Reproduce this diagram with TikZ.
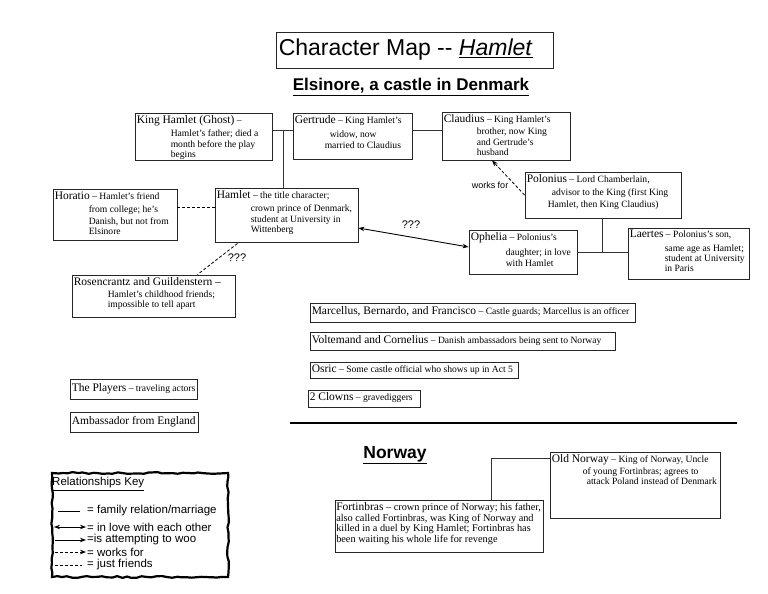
\documentclass[tikz,border=0pt]{standalone}
\usepackage{fontspec}
\setmainfont{Liberation Serif}
\setsansfont{Liberation Sans}
\usetikzlibrary{fit,arrows.meta,decorations.pathmorphing}
\newcommand\cmN{\fontsize{11.5}{13}\selectfont}
\newcommand\cmD{\fontsize{9.6}{10.4}\selectfont}
\newcommand\cmF{\fontsize{10.3}{10.8}\selectfont}
\tikzset{
  cbox/.style={draw=black!85, line width=0.9pt, inner sep=0pt, fit={#1}},
  ctext/.style={anchor=north west, inner sep=0pt, align=left, font=\cmD},
  cone/.style={anchor=west, inner sep=0pt, font=\cmD},
  rel/.style={line width=0.8pt, draw=black!80},
  dsh/.style={line width=0.8pt, dash pattern=on 3pt off 2pt},
  tipA/.style={-{Stealth[length=6pt,width=4.5pt]}},
  tipB/.style={{Stealth[length=6pt,width=4.5pt]}-{Stealth[length=6pt,width=4.5pt]}},
  lbl/.style={font=\sffamily\fontsize{11}{12}\selectfont, inner sep=0pt},
  keyt/.style={anchor=west, inner sep=0pt, font=\sffamily\fontsize{11.5}{13}\selectfont}
}
\newcommand\cmbox[6]{%
  \node[cbox={(#2,#3) (#4,#5)}] (#1) {};
  \node[ctext] (#1t) at ([xshift=2pt,yshift=-2.5pt]#1.north west) {#6};}
\newcommand\cmone[6]{%
  \node[cbox={(#2,#3) (#4,#5)}] (#1) {};
  \node[cone] (#1t) at ([xshift=2pt,yshift=0.5pt]#1.west) {#6};}
\begin{document}
\begin{tikzpicture}[x=1pt,y=-1pt]
\useasboundingbox[fill=white] (0,0) rectangle (768,594);

% title
\node[cbox={(276,32) (553,68)}] (title) {};
\node[anchor=west, inner sep=0pt, font=\sffamily\fontsize{23}{26}\selectfont] (titlet) at ([xshift=3pt,yshift=0pt]title.west) {Character Map -{}- \underline{\textit{Hamlet}}};
\node[inner sep=0pt, font=\sffamily\bfseries\fontsize{17}{20}\selectfont] (elsi) at (411,87) {\underline{Elsinore, a castle in Denmark}};

% character boxes
\cmbox{kh}{135}{113}{272}{160}{{\cmN King Hamlet (Ghost)} –\\[3pt]
\hspace*{34pt}Hamlet’s father; died a\\
\hspace*{34pt}month before the play\\
\hspace*{34pt}begins}
\cmbox{ger}{293}{113}{412}{159}{{\cmN Gertrude} – King Hamlet’s\\[4pt]
\hspace*{35pt}widow, now\\
\hspace*{30pt}married to Claudius}
\cmbox{cla}{442}{112}{570}{160}{{\cmN Claudius} – King Hamlet’s\\[2pt]
\hspace*{33pt}brother, now King\\
\hspace*{33pt}and Gertrude’s\\
\hspace*{33pt}husband}
\node[cbox={(525,172) (681,218)}] (pol) {};
\node[ctext] (polt) at ([xshift=2pt,yshift=-3pt]pol.north west) {{\cmN Polonius} – Lord Chamberlain,\\[2.5pt]
\hspace*{25pt}advisor to the King (first King\\[1.5pt]
\hspace*{21pt}Hamlet, then King Claudius)};
\node[cbox={(53,189) (177,240)}] (hor) {};
\node[ctext] (hort) at ([xshift=2pt,yshift=-3.5pt]hor.north west) {{\cmN Horatio} – Hamlet’s friend\\[2.5pt]
\hspace*{34pt}from college; he’s\\[1pt]
\hspace*{34pt}Danish, but not from\\
\hspace*{34pt}Elsinore};
\node[cbox={(215,188) (358,242)}] (ham) {};
\node[ctext] (hamt) at ([xshift=2pt,yshift=-3pt]ham.north west) {{\cmN Hamlet} – the title character;\\[2.5pt]
\hspace*{34pt}crown prince of Denmark,\\
\hspace*{34pt}student at University in\\
\hspace*{34pt}Wittenberg};
\cmbox{rg}{72}{275}{235}{317}{{\cmN Rosencrantz and Guildenstern –}\\[1.5pt]
\hspace*{34pt}Hamlet’s childhood friends;\\
\hspace*{34pt}impossible to tell apart}
\cmbox{oph}{469}{230}{577}{274}{{\cmN Ophelia} – Polonius’s\\[5pt]
\hspace*{35pt}daughter; in love\\
\hspace*{35pt}with Hamlet}
\cmbox{lae}{628}{228}{749}{279}{{\cmN Laertes} – Polonius’s son,\\[3pt]
\hspace*{35pt}same age as Hamlet;\\
\hspace*{35pt}student at University\\
\hspace*{35pt}in Paris}

\cmone{mar}{310}{303}{635}{322}{{\cmN Marcellus, Bernardo, and Francisco} – Castle guards; Marcellus is an officer}
\cmone{vol}{310}{332}{615}{350}{{\cmN Voltemand and Cornelius} – Danish ambassadors being sent to Norway}
\cmone{osr}{310}{362}{518}{378}{{\cmN Osric} – Some castle official who shows up in Act 5}
\cmone{clo}{308}{390}{420}{407}{{\cmN 2 Clowns} – gravediggers}
\cmone{pla}{70}{379}{197}{399}{{\cmN The Players} – traveling actors}
\cmone{amb}{70}{412}{198}{432}{{\cmN Ambassador from England}}

% separator
\draw[line width=1.5pt] (290,423) -- (737,423);

% Norway
\node[inner sep=0pt, font=\sffamily\bfseries\fontsize{17.5}{20}\selectfont] (nor) at (395,455) {\underline{Norway}};
\node[cbox={(335,500) (543,552)}] (fort) {};
\node[ctext, font=\cmF] (fortt) at ([xshift=1.5pt,yshift=-2.5pt]fort.north west) {{\cmN Fortinbras} – crown prince of Norway; his father,\\
also called Fortinbras, was King of Norway and\\
killed in a duel by King Hamlet; Fortinbras has\\
been waiting his whole life for revenge};
\cmbox{onw}{550}{452}{720}{518}{{\cmN Old Norway} – King of Norway, Uncle\\[1.5pt]
\hspace*{31pt}of young Fortinbras; agrees to\\
\hspace*{35pt}attack Poland instead of Denmark}

% connectors
\coordinate (famA) at (283,130);
\draw[rel] ([yshift=6.5pt]kh.east) -- ([yshift=6.5pt]kh.east -| ger.west);
\draw[rel] (famA) -- (famA |- ham.north);
\draw[rel] ([yshift=6pt]ger.east) -- ([yshift=6pt]ger.east -| cla.west);
\draw[rel] (pol.south -| 602,0) -- (602,252);
\draw[rel] (oph.east) -- (oph.east -| lae.west);
\draw[dsh, tipA] (pol.west) -- ([xshift=-14pt]cla.south);
\node[font=\sffamily\fontsize{9}{10}\selectfont, inner sep=0pt] (wf) at (490,185) {works for};
\draw[dsh] ([yshift=7pt]hor.east) -- ([yshift=7pt]hor.east -| ham.west);
\draw[line width=0.9pt, tipB] ([yshift=-13pt]ham.east) -- ([yshift=5pt]oph.west);
\node[lbl] (q1) at (411,225) {???};
\draw[dsh] ([xshift=-49pt,yshift=-1pt]ham.south) -- ([xshift=44pt]rg.north);
\node[lbl] (q2) at (237,258) {???};
\draw[rel] ([xshift=52pt]fort.north) |- ([yshift=27pt]onw.west);

% key
\pgfmathsetseed{7}
\draw[line width=2.2pt, decorate, decoration={random steps, segment length=5pt, amplitude=0.9pt}] (52,473) rectangle (228,577);
\node[keyt] (keyh) at (52,484) {\underline{Relationships Key}};
\coordinate (k1a) at (58,511); \coordinate (k1b) at (80,511);
\coordinate (k2a) at (54,527); \coordinate (k2b) at (86,527);
\coordinate (k3a) at (55,540); \coordinate (k3b) at (86,540);
\coordinate (k4a) at (55,552); \coordinate (k4b) at (86,552);
\coordinate (k5a) at (55,565); \coordinate (k5b) at (82,565);
\draw[line width=0.8pt] (k1a) -- (k1b);
\draw[line width=0.8pt, tipB] (k2a) -- (k2b);
\draw[line width=0.8pt, tipA] (k3a) -- (k3b);
\draw[dsh, tipA] (k4a) -- (k4b);
\draw[dsh] (k5a) -- (k5b);
\node[keyt] (kt1) at (87,511) {= family relation/marriage};
\node[keyt] (kt2) at (87,527) {= in love with each other};
\node[keyt] (kt3) at (87,540) {=is attempting to woo};
\node[keyt] (kt4) at (87,552) {= works for};
\node[keyt] (kt5) at (87,565) {= just friends};
\end{tikzpicture}
\end{document}
